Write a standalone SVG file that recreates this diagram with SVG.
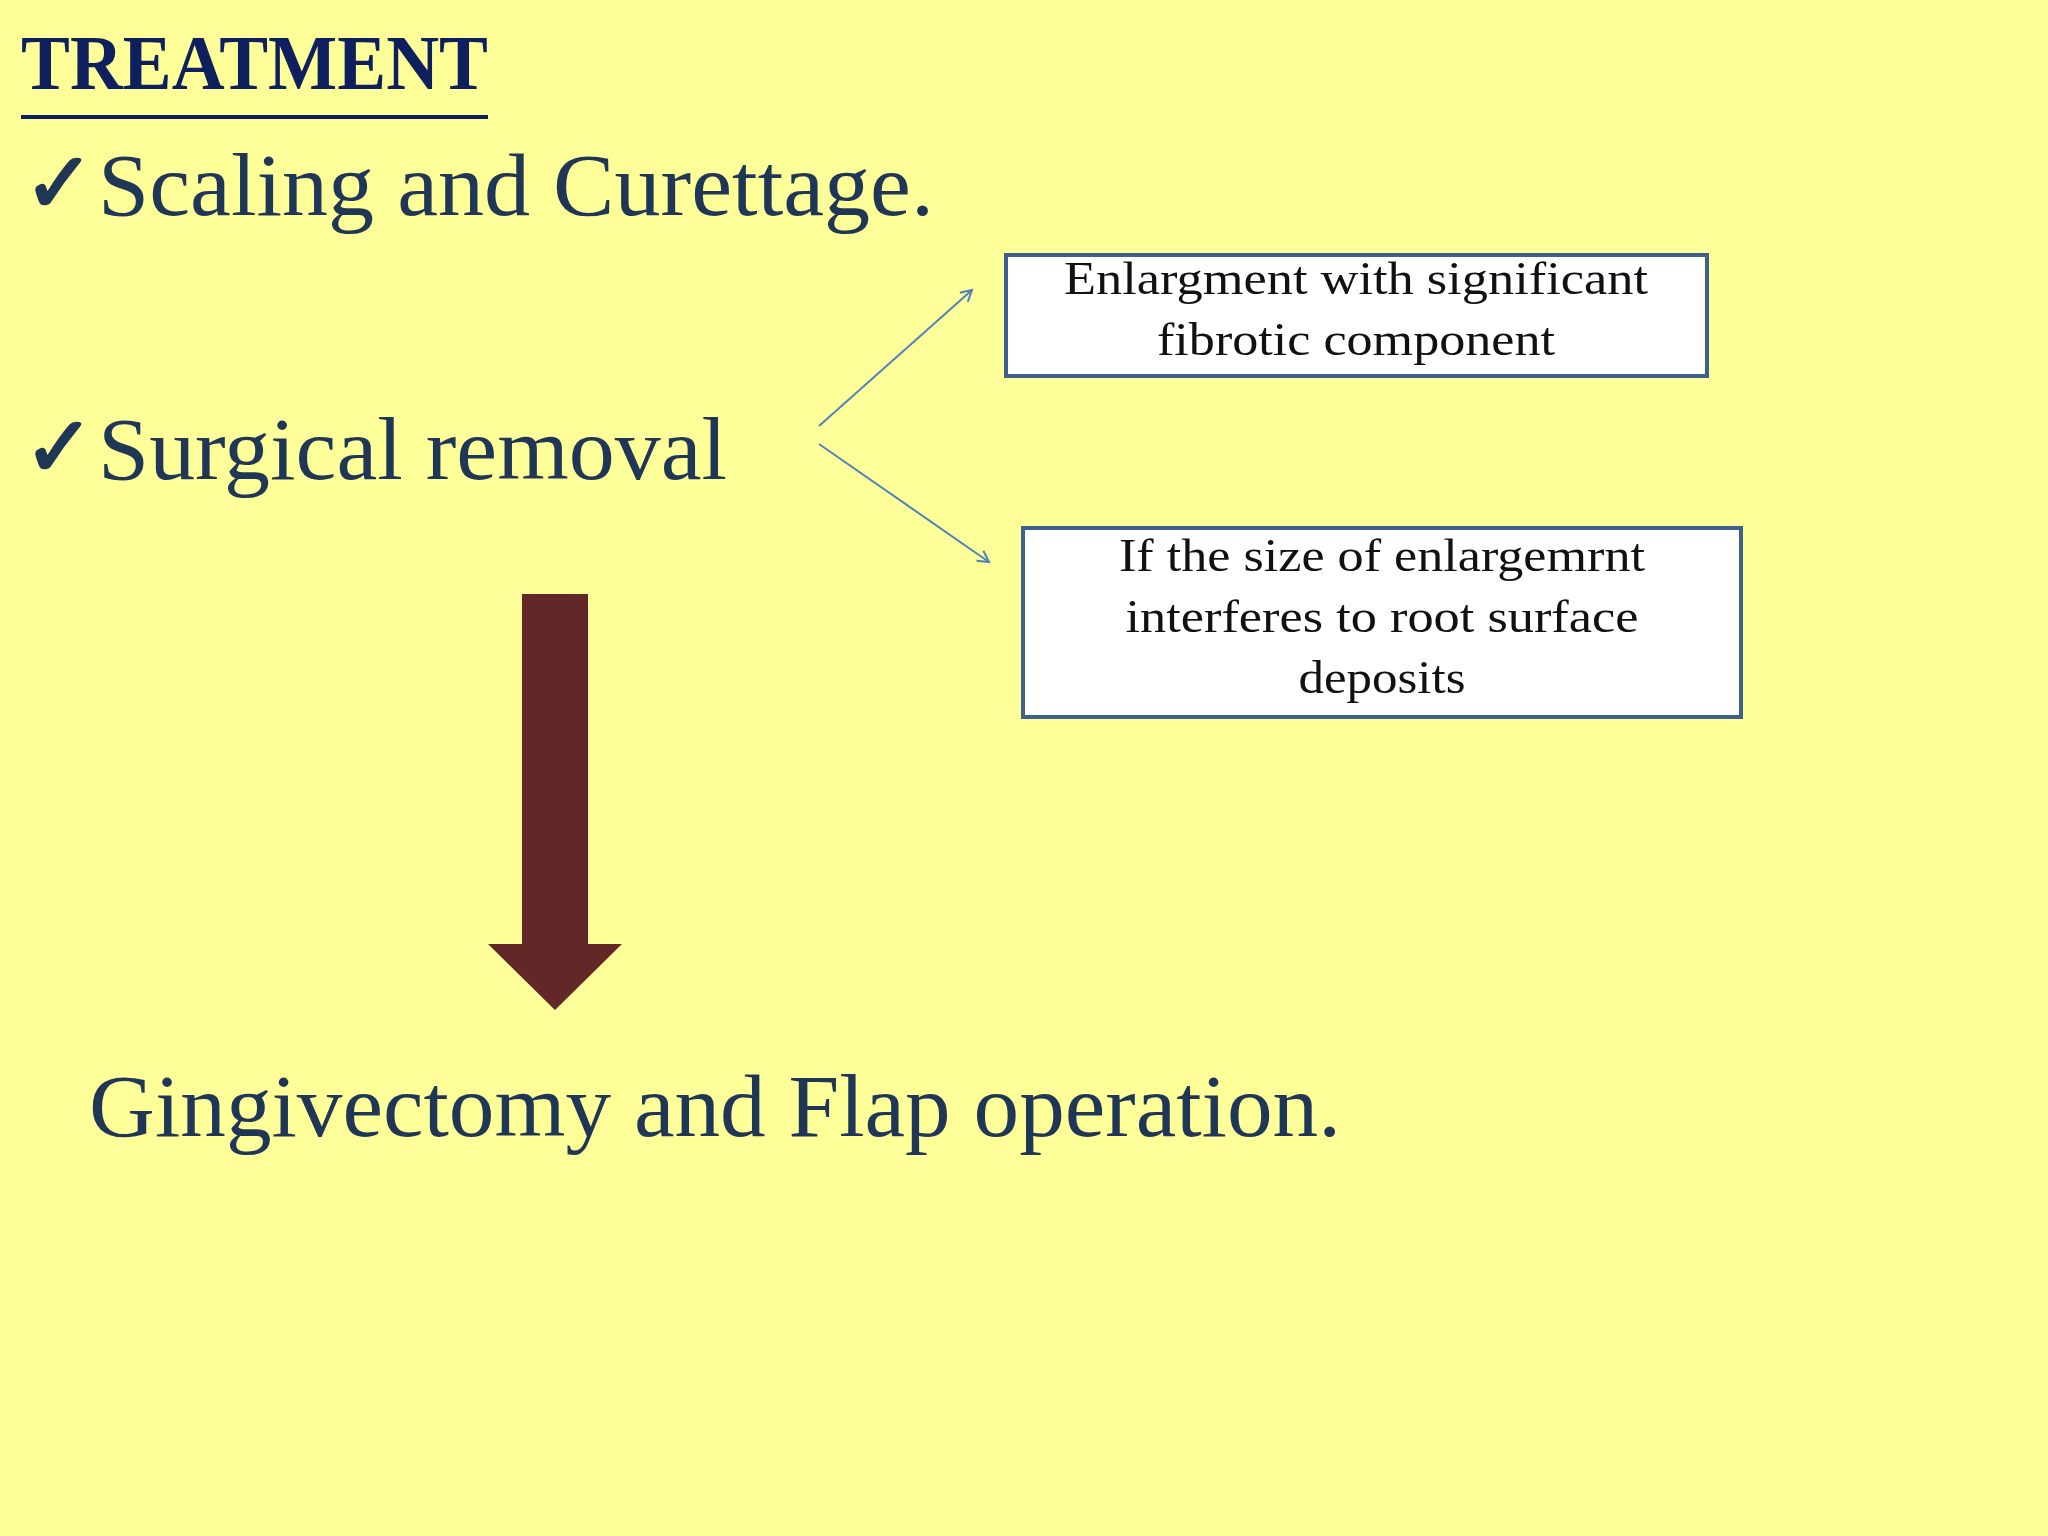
<svg xmlns="http://www.w3.org/2000/svg" width="2048" height="1536" viewBox="0 0 2048 1536">
<defs>
<style>
.t{font-family:"Liberation Serif",serif;fill:#1F3656}
.b{font-family:"Liberation Serif",serif;fill:#111;font-size:46px;text-anchor:middle}
.box{fill:#fff;stroke:#3F5F8F;stroke-width:4}
.c{stroke:#4F81BD;stroke-width:2;fill:none}
</style>
<marker id="ah" markerWidth="14" markerHeight="14" refX="12" refY="7" orient="auto" markerUnits="userSpaceOnUse">
<path d="M1,1 L12,7 L1,13" fill="none" stroke="#4F81BD" stroke-width="2"/>
</marker>
</defs>
<rect width="2048" height="1536" fill="#FFFF99"/>
<g id="title">
<text x="21" y="89" font-family="Liberation Serif,serif" font-weight="bold" font-size="78" fill="#0D1F5C" textLength="467" lengthAdjust="spacingAndGlyphs">TREATMENT</text>
<line x1="21" y1="117" x2="488" y2="117" stroke="#0D1F5C" stroke-width="4"/>
</g>
<g id="scaling">
<text class="t" x="24" y="212" font-size="84" font-weight="bold">✓</text>
<text class="t" x="98" y="215" font-size="88" textLength="836" lengthAdjust="spacingAndGlyphs">Scaling and Curettage.</text>
</g>
<g id="surgical">
<text class="t" x="24" y="476" font-size="84" font-weight="bold">✓</text>
<text class="t" x="98" y="479" font-size="88" textLength="629" lengthAdjust="spacingAndGlyphs">Surgical removal</text>
</g>
<g id="connectors">
<line class="c" x1="819" y1="426" x2="972" y2="290" marker-end="url(#ah)"/>
<line class="c" x1="819" y1="444" x2="989" y2="562" marker-end="url(#ah)"/>
</g>
<g id="box1">
<rect class="box" x="1006" y="255" width="701" height="121"/>
<text class="b" x="1356" y="294" textLength="584" lengthAdjust="spacingAndGlyphs">Enlargment with significant</text>
<text class="b" x="1356" y="355" textLength="398" lengthAdjust="spacingAndGlyphs">fibrotic component</text>
</g>
<g id="box2">
<rect class="box" x="1023" y="528" width="718" height="189"/>
<text class="b" x="1382" y="571" textLength="526" lengthAdjust="spacingAndGlyphs">If the size of enlargemrnt</text>
<text class="b" x="1382" y="632" textLength="513" lengthAdjust="spacingAndGlyphs">interferes to root surface</text>
<text class="b" x="1382" y="693" textLength="167" lengthAdjust="spacingAndGlyphs">deposits</text>
</g>
<g id="bigarrow">
<path d="M522,594 H588 V944 H622 L555,1010 L488,944 H522 Z" fill="#622828"/>
</g>
<g id="gingivectomy">
<text class="t" x="89" y="1136" font-size="88" textLength="1252" lengthAdjust="spacingAndGlyphs">Gingivectomy and Flap operation.</text>
</g>
</svg>
